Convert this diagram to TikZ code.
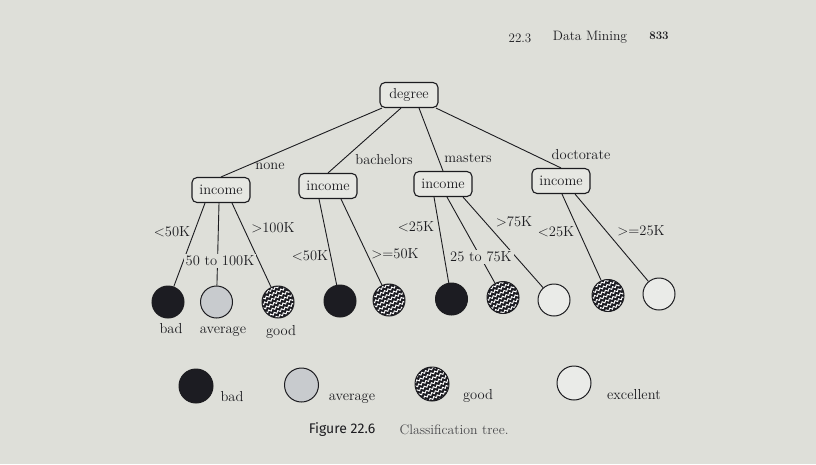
\documentclass[tikz,border=0pt]{standalone}
\usepackage{fontspec}
\newfontfamily\capsans{Fira Sans}
\definecolor{bgcol}{RGB}{222,223,217}
\definecolor{boxfill}{RGB}{230,231,226}
\definecolor{badcol}{RGB}{28,28,34}
\definecolor{avgcol}{RGB}{200,203,206}
\definecolor{exccol}{RGB}{234,235,232}
\definecolor{inkcol}{RGB}{28,28,32}
\newcommand{\fs}{\fontsize{14.5}{16}\selectfont}
\usetikzlibrary{calc}
\tikzset{
  box/.style={draw=inkcol, rounded corners=5pt, line width=1.1pt, fill=boxfill,
    minimum width=58pt, minimum height=25pt, inner sep=2pt, font=\fs, text=inkcol},
  lbl/.style={font=\fs, inner sep=1pt, text=inkcol},
  onlbl/.style={lbl, fill=bgcol, inner sep=2pt},
  leaf/.style={circle, draw=inkcol, line width=1pt, minimum size=32pt, inner sep=0pt},
  badc/.style={leaf, fill=badcol},
  avgc/.style={leaf, fill=avgcol},
  exc/.style={leaf, fill=exccol},
  goodc/.style={leaf, fill=badcol, path picture={
      \foreach \j in {-24,-19.5,...,24}{
        \draw[white, line width=0.9pt, line join=miter]
          ($(path picture bounding box.center)+(-21.6+0.44*\j,10.56+0.9*\j)$)
          \foreach \k in {0,...,11}{ -- ++(2.77,1.10) -- ++(0.83,-2.86)};
      }}},
  edge/.style={draw=inkcol, line width=0.9pt}
}
\begin{document}
\begin{tikzpicture}[x=1pt,y=-1pt]
\useasboundingbox (0,0) rectangle (816,464);
\fill[bgcol] (0,0) rectangle (816,464);

% header
\node[font=\fontsize{13}{15}\selectfont, text=inkcol] (hsec) at (520,38) {22.3};
\node[font=\fontsize{13.6}{15}\selectfont, text=inkcol] (htitle) at (590,37) {Data Mining};
\node[font=\fontsize{11.5}{13}\selectfont\bfseries, text=inkcol] (hpage) at (659,36) {833};

% tree
\node[box] (deg) at (409,95) {degree};
\node[box] (inc1) at (221,190) {income};
\node[box] (inc2) at (328,186) {income};
\node[box] (inc3) at (443,184) {income};
\node[box] (inc4) at (561,181) {income};

\draw[edge] ([xshift=-27pt]deg.south) -- (inc1.north);
\draw[edge] ([xshift=-8pt]deg.south) -- (inc2.north);
\draw[edge] ([xshift=10pt]deg.south) -- (inc3.north);
\draw[edge] ([xshift=27pt]deg.south) -- (inc4.north);

\node[lbl] (lnone) at (270,166) {none};
\node[lbl] (lbach) at (384,160) {bachelors};
\node[lbl] (lmast) at (468,158) {masters};
\node[lbl] (ldoct) at (581,155) {doctorate};

% leaves
\node[badc]  (L1) at (168,302) {};
\node[avgc]  (L2) at (216.5,302) {};
\node[goodc] (L3) at (278,302) {};
\node[badc]  (L4) at (340,301) {};
\node[goodc] (L5) at (389,300) {};
\node[badc]  (L6) at (451.5,299) {};
\node[goodc] (L7) at (503,297.5) {};
\node[exc]   (L8) at (554,300) {};
\node[goodc] (L9) at (608,295.5) {};
\node[exc]   (L10) at (659,294) {};

\draw[edge] ([xshift=-16pt]inc1.south) -- (L1);
\draw[edge] ([xshift=-2pt]inc1.south) -- (L2);
\draw[edge] ([xshift=11pt]inc1.south) -- (L3);
\draw[edge] ([xshift=-9pt]inc2.south) -- (L4);
\draw[edge] ([xshift=13pt]inc2.south) -- (L5);
\draw[edge] ([xshift=-9pt]inc3.south) -- (L6);
\draw[edge] ([xshift=4pt]inc3.south) -- (L7);
\draw[edge] ([xshift=20pt]inc3.south) -- (L8);
\draw[edge] ([xshift=1pt]inc4.south) -- (L9);
\draw[edge] ([xshift=14pt]inc4.south) -- (L10);

\node[lbl] (e1) at (172,232) {<50K};
\node[onlbl] (e2) at (220,261) {50 to 100K};
\node[lbl] (e3) at (273,228) {>100K};
\node[lbl] (e4) at (310,256) {<50K};
\node[lbl] (e5) at (395,254) {>=50K};
\node[lbl] (e6) at (416,227) {<25K};
\node[onlbl] (e7) at (481,257) {25 to 75K};
\node[lbl] (e8) at (514,222) {>75K};
\node[lbl] (e9) at (556,232) {<25K};
\node[lbl] (e10) at (641,231) {>=25K};

\node[lbl] (t1) at (171,329) {bad};
\node[lbl] (t2) at (223,332) {average};
\node[lbl] (t3) at (281,332) {good};

% legend
\node[badc, minimum size=34pt] (k1) at (196,386) {};
\node[lbl] (k1t) at (232,397) {bad};
\node[avgc, minimum size=34pt] (k2) at (301.5,385) {};
\node[lbl] (k2t) at (352,399) {average};
\node[goodc, minimum size=34pt] (k3) at (432,384) {};
\node[lbl] (k3t) at (478,396) {good};
\node[exc, minimum size=34pt] (k4) at (574,383) {};
\node[lbl] (k4t) at (634,395) {excellent};

% caption
\node[font=\capsans\fontsize{14}{16}\selectfont, text=inkcol] (cap1) at (342,430) {Figure 22.6};
\node[font=\fontsize{13.8}{15}\selectfont, text=inkcol!80] (cap2) at (454,430) {Classification tree.};
\end{tikzpicture}
\end{document}
